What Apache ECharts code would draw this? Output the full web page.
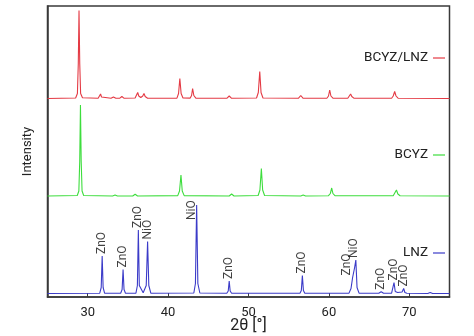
<!DOCTYPE html>
<html>
<head>
<meta charset="utf-8">
<script src="https://cdn.jsdelivr.net/npm/echarts@6/dist/echarts.min.js"></script>
<style>
  html, body { margin: 0; padding: 0; background: #fff; }
  #chart { width: 474px; height: 336px; }
</style>
</head>
<body>
<div id="chart"></div>
<script>
// XRD patterns: [2θ (deg), intensity above the pattern's own baseline]
const bcyzLnz = [
  [25, 0], [28.5, 0.5], [28.72, 5], [28.83, 35], [28.92, 88], [29.01, 35], [29.12, 5], [29.35, 0.8],
  [31.3, 0.3], [31.48, 1.5], [31.6, 4.5], [31.72, 1.5], [31.9, 0.3],
  [32.9, 0.2], [33.2, 1.5], [33.5, 0.2],
  [34.0, 0.3], [34.25, 2], [34.5, 0.3],
  [35.9, 0.5], [36.1, 2.5], [36.22, 6], [36.35, 2.5], [36.6, 1],
  [36.85, 2.5], [37.0, 5], [37.15, 2], [37.45, 0.3],
  [41.1, 0.4], [41.3, 5], [41.46, 20], [41.62, 5], [41.85, 0.5],
  [42.75, 0.4], [42.92, 3], [43.05, 10], [43.2, 3], [43.45, 0.4],
  [47.3, 0.2], [47.6, 2.5], [47.9, 0.2],
  [51.0, 0.5], [51.22, 6], [51.4, 27], [51.56, 6], [51.8, 0.5],
  [56.2, 0.2], [56.5, 3], [56.8, 0.2],
  [59.75, 0.3], [59.95, 2.5], [60.1, 8.5], [60.25, 2.5], [60.5, 0.3],
  [62.35, 0.3], [62.55, 2], [62.7, 4.5], [62.85, 2], [63.1, 0.3],
  [67.8, 0.3], [68.0, 2.5], [68.18, 7], [68.35, 2.5], [68.6, 0.3],
  [75, 0]
];

const bcyz = [
  [25, 0], [28.7, 0.5], [28.9, 5], [29.01, 35], [29.1, 91], [29.19, 35], [29.3, 5], [29.5, 0.5],
  [33.1, 0], [33.4, 1], [33.7, 0],
  [35.6, 0], [35.9, 1.8], [36.2, 0],
  [41.2, 0.4], [41.42, 5], [41.6, 21], [41.76, 5], [42.0, 0.4],
  [47.6, 0], [47.9, 2], [48.2, 0],
  [51.2, 0.5], [51.42, 6], [51.6, 27.5], [51.76, 6], [52.0, 0.5],
  [56.5, 0], [56.8, 1], [57.1, 0],
  [59.95, 0.3], [60.18, 2.5], [60.35, 8], [60.5, 2.5], [60.75, 0.3],
  [68.0, 0.3], [68.22, 2], [68.4, 6], [68.58, 2], [68.85, 0.3],
  [75, 0]
];

const lnz = [
  [25, 0],
  [31.5, 0.3], [31.68, 6], [31.8, 37.5], [31.92, 6], [32.1, 0.3],
  [34.1, 0.3], [34.28, 4], [34.4, 24], [34.52, 4], [34.7, 0.3],
  [36.0, 0.3], [36.18, 8], [36.3, 63.5], [36.42, 8], [36.9, 0.8],
  [37.28, 8], [37.45, 52], [37.6, 8], [37.85, 0.3],
  [43.2, 0.5], [43.4, 10], [43.55, 88.5], [43.7, 10], [43.95, 0.5],
  [47.3, 0.3], [47.48, 2.5], [47.6, 12.5], [47.72, 2.5], [47.9, 0.3],
  [56.4, 0.3], [56.57, 3], [56.7, 18], [56.83, 3], [57.0, 0.3],
  [62.5, 0.4], [62.75, 5], [62.95, 16], [63.2, 26], [63.35, 33.5], [63.5, 6], [63.75, 0.4],
  [66.2, 0.2], [66.5, 1.8], [66.8, 0.2],
  [67.8, 0.3], [67.97, 2], [68.1, 11], [68.25, 2], [68.55, 1],
  [69.1, 1.5], [69.3, 5], [69.45, 1], [69.7, 0.2],
  [72.3, 0], [72.6, 1], [72.9, 0],
  [75, 0]
];

// vertical offsets that stack the three patterns
const seriesNames = ['BCYZ/LNZ', 'BCYZ', 'LNZ'];
const seriesOffsets = [198.5, 101, 3.5];

// phase assignments of the LNZ reflections: [phase, 2θ]
const lnzPhases = [
  ['ZnO', 31.8], ['ZnO', 34.4], ['ZnO', 36.3], ['NiO', 37.45], ['NiO', 43.55],
  ['ZnO', 47.6], ['ZnO', 56.7], ['ZnO', 62.95], ['NiO', 63.35],
  ['ZnO', 66.5], ['ZnO', 68.1], ['ZnO', 69.3]
];

const xTicks = [30, 40, 50, 60, 70];

const colors = ['#e43a44', '#3ddd3d', '#3b3bc8'];
const FONT = 'Roboto, "Liberation Sans", sans-serif';

const patterns = [bcyzLnz, bcyz, lnz];
const lineSeries = patterns.map((pts, i) => ({
  name: seriesNames[i],
  type: 'line',
  data: pts.map(p => [p[0], p[1] + seriesOffsets[i]]),
  showSymbol: false,
  symbol: 'none',
  silent: true,
  lineStyle: { width: 1.1, color: colors[i] },
  itemStyle: { color: colors[i] },
  z: 3 - i
}));

// screen nudges (px, [right, down]) for names set beside their peak
const labelNudge = { 4: [-5, 17], 7: [-6, 0], 8: [-2, 0] };

const phaseLabels = lnzPhases.map(([name, theta], i) => {
  const hit = lnz.find(p => p[0] === theta);
  const item = {
    value: [theta, hit[1] + seriesOffsets[2]],
    name: name
  };
  const n = labelNudge[i];
  // label offsets act in the text's rotated frame
  if (n) item.label = { offset: [-n[1], n[0]] };
  return item;
});

const legends = seriesNames.map((n, i) => ({
  data: [n],
  right: 29,
  top: [51, 148, 246][i],
  padding: 0,
  orient: 'vertical',
  align: 'right',
  icon: 'rect',
  itemWidth: 12,
  itemHeight: 1.2,
  selectedMode: false,
  textStyle: { fontFamily: FONT, fontSize: 13.5, color: '#222' }
}));

const chart = echarts.init(document.getElementById('chart'), null, { renderer: 'canvas' });
chart.setOption({
  animation: false,
  backgroundColor: '#fff',
  legend: legends,
  grid: {
    left: 47.5, right: 24.5, top: 6, bottom: 39,
    outerBoundsMode: 'none',
    containLabel: false,
    show: true, borderColor: '#3a3a3a', borderWidth: 1.5
  },
  xAxis: {
    type: 'value',
    min: 25, max: 75,
    name: '2θ [°]',
    nameLocation: 'middle',
    nameGap: 20.5,
    nameMoveOverlap: false,
    nameTextStyle: { fontFamily: FONT, fontSize: 16, color: '#222' },
    axisLine: { lineStyle: { color: '#3a3a3a', width: 1.5 } },
    axisTick: { inside: true, length: 4, customValues: xTicks, lineStyle: { color: '#3a3a3a' } },
    axisLabel: { customValues: xTicks, margin: 9, fontFamily: FONT, fontSize: 13, color: '#222' },
    splitLine: { show: false }
  },
  yAxis: {
    type: 'value',
    min: 0, max: 291,
    name: 'Intensity',
    nameLocation: 'middle',
    nameGap: 13,
    nameMoveOverlap: false,
    nameTextStyle: { fontFamily: FONT, fontSize: 13, color: '#222' },
    axisLine: { show: true, lineStyle: { color: '#3a3a3a', width: 1.5 } },
    axisTick: { show: false },
    axisLabel: { show: false },
    splitLine: { show: false }
  },
  series: lineSeries.concat([{
    name: 'phases',
    type: 'scatter',
    data: phaseLabels,
    symbolSize: 0,
    silent: true,
    z: 5,
    label: {
      show: true,
      position: 'top',
      distance: 2,
      rotate: 90,
      align: 'left',
      verticalAlign: 'middle',
      formatter: p => p.name,
      fontFamily: FONT,
      fontSize: 12,
      color: '#111'
    }
  }])
});
</script>
</body>
</html>
